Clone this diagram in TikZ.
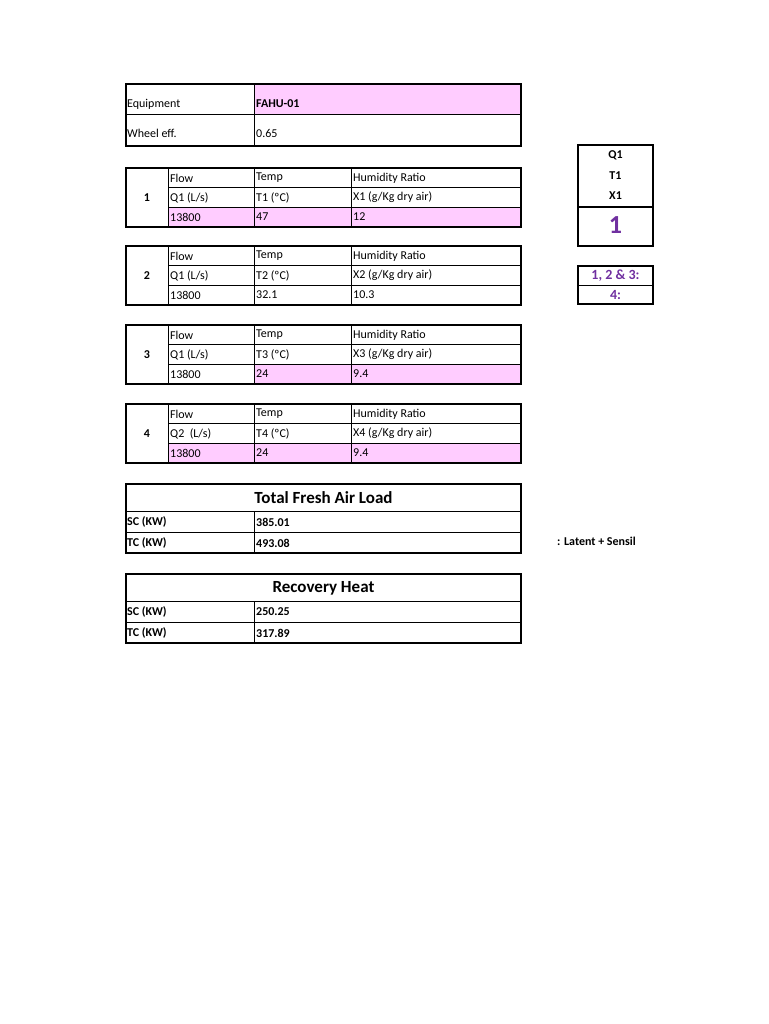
\documentclass[tikz,border=0pt]{standalone}
\usepackage{fontspec}
\setmainfont{Carlito}
\definecolor{pk}{HTML}{FFCCFF}
\definecolor{pu}{HTML}{7030A0}
\begin{document}
\begin{tikzpicture}[x=1pt,y=-1pt,
  thick/.style={line width=1.4pt},
  thin/.style={line width=0.6pt},
  txt/.style={anchor=west,font=\fontsize{12}{13}\selectfont,inner sep=0pt},
  btxt/.style={txt,font=\fontsize{12}{13}\selectfont\bfseries},
  ctr/.style={font=\fontsize{12}{13}\selectfont\bfseries,inner sep=0pt}]
\useasboundingbox (0,0) rectangle (768,1024);
\fill[white] (0,0) rectangle (768,1024);
% header
\fill[pk] (254,84) rectangle (521,114);
\draw[thin] (126,114)--(521,114) (254,84)--(254,146);
\draw[thick] (126,84) rectangle (521,146);
\node[txt] (eq) at (127,104) {Equipment};
\node[btxt] (fa) at (256,104) {FAHU-01};
\node[txt] (we) at (127,133) {Wheel eff.};
\node[txt] (wv) at (256,133) {0.65};
% groups
\foreach \n/\t/\q/\T/\X/\f/\tv/\xv/\pk in {
 1/168/Q1/T1/X1/13800/47/12/1,
 2/246/Q1/T2/X2/13800/32.1/10.3/0,
 3/325/Q1/T3/X3/13800/24/9.4/2,
 4/404/Q2\ /T4/X4/13800/24/9.4/1}{
  \pgfmathsetmacro{\ra}{\t+19.5}
  \pgfmathsetmacro{\rb}{\t+39}
  \pgfmathsetmacro{\rc}{\t+59}
  \ifnum\pk=1 \fill[pk] (168,\rb) rectangle (521,\rc); \fi
  \ifnum\pk=2 \fill[pk] (254,\rb) rectangle (521,\rc); \fi
  \draw[thin] (168,\ra)--(521,\ra) (168,\rb)--(521,\rb)
    (168,\t)--(168,\rc) (254,\t)--(254,\rc) (351,\t)--(351,\rc);
  \draw[thick] (126,\t) rectangle (521,\rc);
  \node[ctr] (g\n) at (147,{\t+29.5}) {\n};
  \node[txt] (fl\n) at (170,{\t+10}) {Flow};
  \node[txt] (te\n) at (256,{\t+10}) {Temp};
  \node[txt] (hu\n) at (353,{\t+10}) {Humidity Ratio};
  \node[txt] (qq\n) at (170,{\t+29.5}) {\q\ (L/s)};
  \node[txt] (tt\n) at (256,{\t+29.5}) {\T\ (ºC)};
  \node[txt] (xx\n) at (353,{\t+29.5}) {\X\ (g/Kg dry air)};
  \node[txt] (fv\n) at (170,{\t+49}) {\f};
  \node[txt] (tv\n) at (256,{\t+49}) {\tv};
  \node[txt] (xv\n) at (353,{\t+49}) {\xv};
}
% result tables
\foreach \t/\title/\sa/\ta/\nm in {484/Total Fresh Air Load/385.01/493.08/a, 574/Recovery Heat/250.25/317.89/b}{
  \draw[thin] (126,{\t+27})--(521,{\t+27}) (126,{\t+48})--(521,{\t+48}) (254,{\t+27})--(254,{\t+69});
  \draw[thick] (126,\t) rectangle (521,{\t+69});
  \node[inner sep=0pt,font=\fontsize{17}{18}\selectfont\bfseries] (ti\nm) at (323.5,{\t+14}) {\title};
  \node[btxt] (sc\nm) at (127,{\t+38}) {SC (KW)};
  \node[btxt] (scv\nm) at (256,{\t+38}) {\sa};
  \node[btxt] (tc\nm) at (127,{\t+59}) {TC (KW)};
  \node[btxt] (tcv\nm) at (256,{\t+59}) {\ta};
}
\node[btxt] (lat) at (557,541) {: Latent + Sensil};
% legend
\draw[thick] (578,145) rectangle (653,207);
\draw[thick] (578,207) rectangle (653,246);
\node[ctr] (lq) at (615.5,155) {Q1};
\node[ctr] (lt) at (615.5,176) {T1};
\node[ctr] (lx) at (615.5,196) {X1};
\node[inner sep=0pt,text=pu,font=\fontsize{26}{28}\selectfont\bfseries] (l1) at (615.5,225) {1};
\draw[thin] (578,285)--(653,285);
\draw[thick] (578,266) rectangle (653,304);
\node[inner sep=0pt,text=pu,font=\fontsize{14}{15}\selectfont\bfseries] (l2) at (615.5,275.5) {1, 2 \& 3:};
\node[inner sep=0pt,text=pu,font=\fontsize{14}{15}\selectfont\bfseries] (l3) at (615.5,295) {4:};
\end{tikzpicture}
\end{document}
